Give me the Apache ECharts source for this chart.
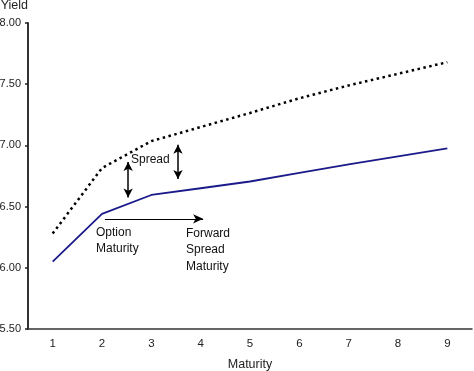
<!DOCTYPE html>
<html><head><meta charset="utf-8">
<script src="https://cdn.jsdelivr.net/npm/echarts@6/dist/echarts.min.js"></script>
<style>html,body{margin:0;padding:0;background:#fff}#c{width:474px;height:371px}</style>
</head><body><div id="c"></div>
<script>
const categories = ['1','2','3','4','5','6','7','8','9'];
const optionCurve = [6.05, 6.44, 6.595, 6.65, 6.705, 6.775, 6.845, 6.91, 6.975];
const forwardCurve = [6.28, 6.815, 7.035, 7.15, 7.265, 7.385, 7.49, 7.585, 7.68];
const yTicks = [5.5, 8.0, 0.5];
// annotation arrows in data units (x on a 0.5..9.5 scale matching category centres)
const spreadArrow1 = [[2.53, 6.865], [2.53, 6.575]];
const spreadArrow2 = [[3.54, 7.005], [3.54, 6.725]];
const maturityArrow = [[2.06, 6.40], [4.05, 6.40]];

const chart = echarts.init(document.getElementById('c'));
const font = 'Liberation Sans, Arial, sans-serif';
chart.setOption({
  animation:false,
  grid:{left:28, right:2, top:23, bottom:42, containLabel:false, outerBoundsMode:'none'},
  xAxis:[{
    type:'category', data:categories, boundaryGap:true,
    axisLine:{lineStyle:{color:'#333', width:1.5}},
    axisTick:{length:3, lineStyle:{color:'#222', width:1.5}},
    axisLabel:{color:'#222', fontFamily:font, fontSize:11.5, margin:9},
    name:'Maturity', nameLocation:'middle', nameGap:29,
    nameTextStyle:{color:'#222', fontFamily:font, fontSize:12.5}
  },{
    type:'value', min:0.5, max:9.5, show:false
  }],
  yAxis:{
    type:'value', min:yTicks[0], max:yTicks[1], interval:yTicks[2],
    axisLine:{show:true, lineStyle:{color:'#333', width:2}},
    axisTick:{show:true, length:3, lineStyle:{color:'#222', width:1.5}},
    splitLine:{show:false},
    axisLabel:{color:'#222', fontFamily:font, fontSize:11, margin:7,
      formatter:v=>v.toFixed(2)},
    name:'Yield', nameGap:11,
    nameTextStyle:{color:'#222', fontFamily:font, fontSize:12.5, align:'right', padding:[0,0,0,0]}
  },
  series:[
    {type:'line', data:forwardCurve, showSymbol:false, symbol:'none',
     lineStyle:{color:'#000', width:2.5, type:[2.5,3.5]}},
    {type:'line', data:optionCurve, showSymbol:false, symbol:'none',
     lineStyle:{color:'#1a1a8a', width:1.8}},
    {type:'line', xAxisIndex:1, data:[], symbol:'none',
     markLine:{silent:true, symbol:['arrow','arrow'], symbolSize:[7,9],
       lineStyle:{color:'#000', width:1.5, type:'solid'}, label:{show:false},
       data:[[{coord:spreadArrow1[0]},{coord:spreadArrow1[1]}],
             [{coord:spreadArrow2[0]},{coord:spreadArrow2[1]}]]}},
    {type:'line', xAxisIndex:1, data:[], symbol:'none',
     markLine:{silent:true, symbol:['none','arrow'], symbolSize:[7,10],
       lineStyle:{color:'#000', width:1.2, type:'solid'}, label:{show:false},
       data:[[{coord:maturityArrow[0]},{coord:maturityArrow[1]}]]}}
  ],
  graphic:[
    {type:'text', left:131, top:154, style:{text:'Spread', font:'12px '+font, fill:'#111'}},
    {type:'text', left:96, top:225, style:{text:'Option\nMaturity', font:'12px '+font, fill:'#111', lineHeight:16}},
    {type:'text', left:186, top:225, style:{text:'Forward\nSpread\nMaturity', font:'12px '+font, fill:'#111', lineHeight:16.5}}
  ]
});
</script></body></html>
